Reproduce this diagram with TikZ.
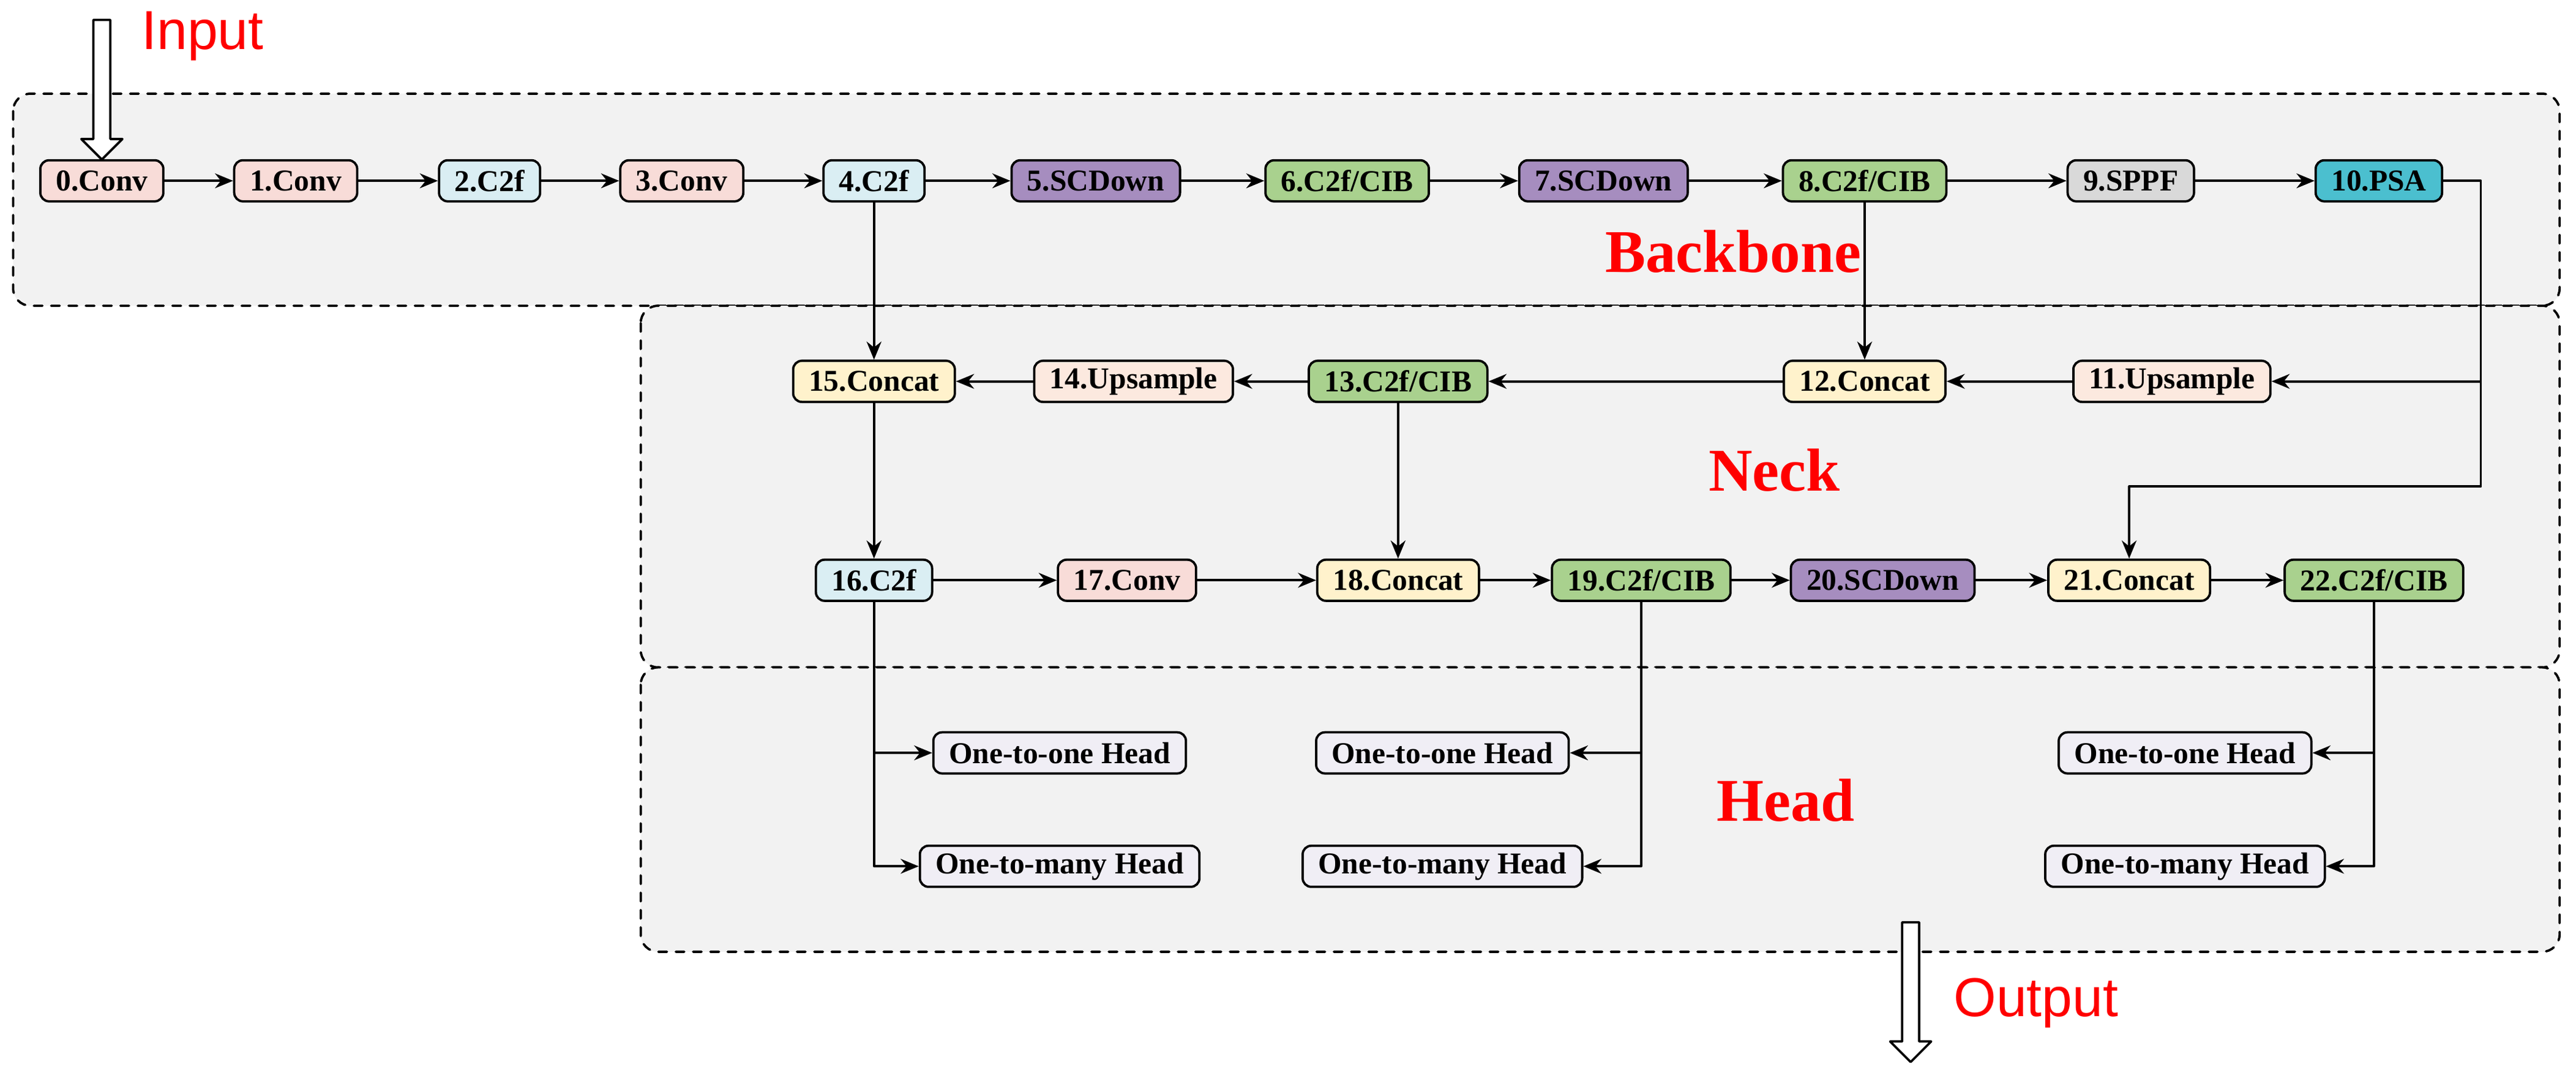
\documentclass[tikz,border=0pt]{standalone}
\usepackage{fontspec}
\setmainfont{Liberation Serif}
\newfontfamily\labfont{Liberation Sans}
\usetikzlibrary{arrows.meta,shapes.arrows}
\definecolor{cconv}{HTML}{F8DCD8}
\definecolor{cctwo}{HTML}{DAEEF3}
\definecolor{cscd}{HTML}{A68DBF}
\definecolor{ccib}{HTML}{A9D18E}
\definecolor{csppf}{HTML}{D9D9D9}
\definecolor{cpsa}{HTML}{4BBFCF}
\definecolor{ccat}{HTML}{FFF2CC}
\definecolor{cups}{HTML}{FCE9DF}
\definecolor{chead}{HTML}{F0EEF5}
\definecolor{cpanel}{HTML}{F2F2F2}
\tikzset{
  blk/.style={draw,rounded corners=3pt,line width=0.8pt,minimum height=5mm,inner xsep=1.9mm,inner ysep=0.5mm,font=\fontsize{10.5}{12}\selectfont\bfseries},
  panel/.style={draw,dashed,rounded corners=6pt,line width=0.8pt,fill=cpanel},
  lab/.style={text=red,font=\fontsize{21}{24}\selectfont\bfseries},
  io/.style={text=red,font=\labfont\fontsize{19}{22}\selectfont},
  flow/.style={-{Stealth[length=2.2mm,width=1.8mm]},line width=0.8pt},
  big/.style={single arrow,draw,fill=white,line width=0.8pt,shape border rotate=270,minimum height=#1,minimum width=5mm,single arrow head extend=1.2mm,inner sep=0.7mm}
}
\begin{document}
\begin{tikzpicture}[x=0.02cm,y=-0.02cm,line cap=round,line join=round]
\useasboundingbox (0,0) rectangle (1568,649);
% panels
\draw[panel] (8,57) rectangle (1558,186);
\draw[panel] (390,186) rectangle (1558,406);
\draw[panel] (390,406) rectangle (1558,579);
\node[lab] (bb) at (1055,153) {Backbone};
\node[lab] (nk) at (1080,286) {Neck};
\node[lab] (hd) at (1087,487) {Head};
% backbone
\node[blk,fill=cconv] (b0) at (62,110) {0.Conv};
\node[blk,fill=cconv] (b1) at (180,110) {1.Conv};
\node[blk,fill=cctwo] (b2) at (298,110) {2.C2f};
\node[blk,fill=cconv] (b3) at (415,110) {3.Conv};
\node[blk,fill=cctwo] (b4) at (532,110) {4.C2f};
\node[blk,fill=cscd] (b5) at (667,110) {5.SCDown};
\node[blk,fill=ccib] (b6) at (820,110) {6.C2f/CIB};
\node[blk,fill=cscd] (b7) at (976,110) {7.SCDown};
\node[blk,fill=ccib] (b8) at (1135,110) {8.C2f/CIB};
\node[blk,fill=csppf] (b9) at (1297,110) {9.SPPF};
\node[blk,fill=cpsa] (b10) at (1448,110) {10.PSA};
% neck
\node[blk,fill=cups] (n11) at (1322,232) {11.Upsample};
\node[blk,fill=ccat] (n12) at (1135,232) {12.Concat};
\node[blk,fill=ccib] (n13) at (851,232) {13.C2f/CIB};
\node[blk,fill=cups] (n14) at (690,232) {14.Upsample};
\node[blk,fill=ccat] (n15) at (532,232) {15.Concat};
\node[blk,fill=cctwo] (n16) at (532,353) {16.C2f};
\node[blk,fill=cconv] (n17) at (686,353) {17.Conv};
\node[blk,fill=ccat] (n18) at (851,353) {18.Concat};
\node[blk,fill=ccib] (n19) at (999,353) {19.C2f/CIB};
\node[blk,fill=cscd] (n20) at (1146,353) {20.SCDown};
\node[blk,fill=ccat] (n21) at (1296,353) {21.Concat};
\node[blk,fill=ccib] (n22) at (1445,353) {22.C2f/CIB};
% heads
\node[blk,fill=chead] (h1) at (645,458) {One-to-one Head};
\node[blk,fill=chead] (h2) at (645,527) {One-to-many Head};
\node[blk,fill=chead] (h3) at (878,458) {One-to-one Head};
\node[blk,fill=chead] (h4) at (878,527) {One-to-many Head};
\node[blk,fill=chead] (h5) at (1330,458) {One-to-one Head};
\node[blk,fill=chead] (h6) at (1330,527) {One-to-many Head};
\coordinate (t1) at (1510,110);
\coordinate (t2) at (1510,296);
% input / output
\node[big=17mm] (in) at (62,52) {};
\node[io,anchor=west] (inl) at (80,22) {Input};
\node[big=17mm] (out) at (1163,601) {};
\node[io,anchor=west] (outl) at (1183,610) {Output};
% connectors
\foreach \a/\b in {b0/b1,b1/b2,b2/b3,b3/b4,b4/b5,b5/b6,b6/b7,b7/b8,b8/b9,b9/b10,
  n11/n12,n12/n13,n13/n14,n14/n15,n16/n17,n17/n18,n18/n19,n19/n20,n20/n21,n21/n22}
  \draw[flow] (\a) -- (\b);
\draw[flow] (b4) -- (n15);
\draw[flow] (b8) -- (n12);
\draw[flow] (n13) -- (n18);
\draw[flow] (n15) -- (n16);
\draw[flow] (b10.east) -- (t1) |- (n11.east);
\draw[flow] (t1) -- (t2) -| (n21.north);
\draw[flow] (n16.south) |- (h2.west);
\draw[flow] (n16.south) |- (h1.west);
\draw[flow] (n19.south) |- (h4.east);
\draw[flow] (n19.south) |- (h3.east);
\draw[flow] (n22.south) |- (h6.east);
\draw[flow] (n22.south) |- (h5.east);
\end{tikzpicture}
\end{document}
